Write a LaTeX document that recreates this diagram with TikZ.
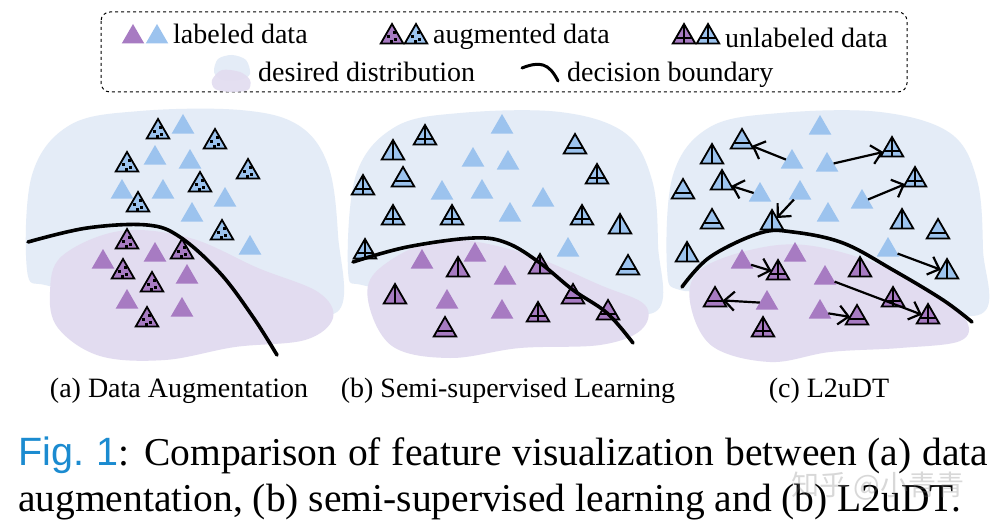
\documentclass[tikz,border=0pt]{standalone}
\usepackage{fontspec}
\setmainfont{Liberation Serif}
\newfontfamily\capsans{Liberation Sans}
\newfontfamily\cjk{Noto Sans CJK SC}
\usetikzlibrary{shapes.geometric,arrows.meta,calc}
\definecolor{tblue}{HTML}{9CC3EE}
\definecolor{tpurp}{HTML}{A77BC2}
\definecolor{bgblue}{HTML}{E4ECF7}
\definecolor{bgpurp}{HTML}{E2DCF0}
\definecolor{figblue}{HTML}{1B8BD0}
\tikzset{
  tri/.style={regular polygon, regular polygon sides=3, minimum size=26pt, inner sep=0pt, outer sep=0pt},
  lb/.style={tri, fill=tblue},
  lp/.style={tri, fill=tpurp},
  edged/.style={draw=black, line width=1.8pt},
  markV/.style={path picture={
     \draw[black, line width=1.6pt] (path picture bounding box.north) -- (path picture bounding box.south);}},
  markH/.style={path picture={
     \draw[black, line width=1.6pt] ($(path picture bounding box.south west)!0.28!(path picture bounding box.north west)$) -- ($(path picture bounding box.south east)!0.28!(path picture bounding box.north east)$);}},
  markX/.style={path picture={
     \draw[black, line width=1.6pt] (path picture bounding box.north) -- (path picture bounding box.south);
     \draw[black, line width=1.6pt] ($(path picture bounding box.south west)!0.28!(path picture bounding box.north west)$) -- ($(path picture bounding box.south east)!0.28!(path picture bounding box.north east)$);}},
  markD/.style={path picture={
     \fill[black] (path picture bounding box.center) ++(0.5pt,0pt) rectangle ++(3pt,3pt);
     \fill[black] (path picture bounding box.center) ++(-5pt,-4pt) rectangle ++(3pt,3pt);
     \fill[black] (path picture bounding box.center) ++(1.5pt,-7pt) rectangle ++(3pt,3pt);
     \fill[black] (path picture bounding box.center) ++(-2.5pt,-9.5pt) rectangle ++(3pt,3pt);}},
  ubV/.style={tri, fill=tblue, edged, markV},
  ubH/.style={tri, fill=tblue, edged, markH},
  ubX/.style={tri, fill=tblue, edged, markX},
  upV/.style={tri, fill=tpurp, edged, markV},
  upH/.style={tri, fill=tpurp, edged, markH},
  upX/.style={tri, fill=tpurp, edged, markX},
  ab/.style={tri, fill=tblue, edged, markD},
  ap/.style={tri, fill=tpurp, edged, markD},
  bound/.style={line width=3.6pt, line cap=round},
  arr/.style={line width=2.2pt, -{Straight Barb[length=10pt,width=19pt,line width=2.2pt]}},
  legtxt/.style={anchor=base west, inner sep=0pt, font=\fontsize{28}{30}\selectfont},
  subcap/.style={anchor=base, inner sep=0pt, font=\fontsize{28}{30}\selectfont},
}
\begin{document}
\begin{tikzpicture}[x=1pt,y=-1pt]
\useasboundingbox (0,0) rectangle (992,524);
\fill[white] (0,0) rectangle (992,524);

% ---------- legend ----------
\draw[dashed, line width=1pt, rounded corners=9pt] (101,12) rectangle (907,92);
\node[lp] (Lp1) at (133,37) {};
\node[lb] (Lb1) at (157,37) {};
\node[legtxt] (Lt1) at (173,44) {labeled data};
\node[ap] (Lp2) at (392,37) {};
\node[ab] (Lb2) at (416,37) {};
\node[legtxt] (Lt2) at (433,44) {augmented data};
\node[upX] (Lp3) at (684,37) {};
\node[ubX] (Lb3) at (708,37) {};
\node[legtxt] (Lt3) at (725,48) {unlabeled data};
\fill[bgblue] plot[smooth cycle] coordinates {(214,72) (218,59) (232,55) (246,60) (250,74) (240,80) (222,80)};
\fill[bgpurp, opacity=0.9] plot[smooth cycle] coordinates {(212,80) (222,70) (240,72) (250,80) (248,90) (230,92) (215,89)};
\node[legtxt] (Lt4) at (258,82) {desired distribution};
\draw[line width=3pt, line cap=round] (522,68) .. controls (540,61) and (549,63) .. (558,81);
\node[legtxt] (Lt5) at (567,82) {decision boundary};

% ---------- panel (a) ----------
\fill[bgblue] plot[smooth cycle, tension=0.6] coordinates {(27,270) (32,175) (70,125) (140,111) (240,110) (298,125) (328,165) (338,235) (337,312) (250,300) (100,290) (45,285)};
\fill[bgpurp] plot[smooth cycle, tension=0.6] coordinates {(50,292) (62,256) (120,231) (190,238) (258,268) (318,292) (333,318) (305,340) (235,347) (165,360) (100,356) (58,328)};
\foreach \p [count=\i] in {(183,127),(155,158),(190,162),(122,192),(163,192),(225,200),(192,215),(250,248)}
  \node[lb] (alb\i) at \p {};
\foreach \p [count=\i] in {(103,262),(155,255),(187,277),(127,302),(182,310)}
  \node[lp] (alp\i) at \p {};
\foreach \p [count=\i] in {(158,132),(215,142),(127,165),(248,172),(200,185),(138,205),(222,233)}
  \node[ab] (aab\i) at \p {};
\foreach \p [count=\i] in {(127,242),(182,252),(123,272),(152,285),(147,320)}
  \node[ap] (aap\i) at \p {};
\draw[bound] plot[smooth, tension=0.6] coordinates {(28,242) (87,228) (147,225) (180,237) (220,273) (253,317) (277,355)};

% ---------- panel (b) ----------
\fill[bgblue] plot[smooth cycle, tension=0.6] coordinates {(348,270) (356,175) (395,127) (460,113) (560,112) (625,133) (652,180) (658,245) (655,312) (560,300) (420,290) (362,285)};
\fill[bgpurp] plot[smooth cycle, tension=0.6] coordinates {(368,300) (380,268) (440,240) (520,252) (600,285) (645,305) (641,330) (600,345) (520,348) (450,358) (392,346)};
\foreach \p [count=\i] in {(502,127),(473,160),(508,163),(442,193),(482,192),(543,200),(510,215),(568,250)}
  \node[lb] (blb\i) at \p {};
\foreach \p [count=\i] in {(422,262),(475,255),(505,278),(447,302),(502,312)}
  \node[lp] (blp\i) at \p {};
\node[ubX] (bub1) at (425,138) {};
\node[ubV] (bub2) at (393,153) {};
\node[ubH] (bub3) at (575,147) {};
\node[ubH] (bub4) at (403,180) {};
\node[ubX] (bub5) at (363,188) {};
\node[ubX] (bub6) at (597,177) {};
\node[ubX] (bub7) at (393,218) {};
\node[ubX] (bub8) at (452,218) {};
\node[ubX] (bub9) at (582,218) {};
\node[ubV] (bub10) at (620,227) {};
\node[ubX] (bub11) at (365,252) {};
\node[ubH] (bub12) at (628,268) {};
\node[upV] (bup1) at (458,270) {};
\node[upV] (bup2) at (540,267) {};
\node[upV] (bup3) at (395,297) {};
\node[upH] (bup4) at (573,297) {};
\node[upX] (bup5) at (538,315) {};
\node[upH] (bup6) at (608,313) {};
\node[upH] (bup7) at (445,330) {};
\draw[bound] plot[smooth, tension=0.6] coordinates {(353,262) (407,247) (473,238) (507,243) (540,263) (573,290) (607,313) (633,343)};

% ---------- panel (c) ----------
\fill[bgblue] plot[smooth cycle, tension=0.6] coordinates {(667,268) (673,175) (710,127) (780,113) (880,112) (950,133) (977,180) (983,250) (981,314) (880,300) (740,290) (680,290)};
\fill[bgpurp] plot[smooth cycle, tension=0.6] coordinates {(690,302) (700,270) (750,250) (805,245) (872,262) (932,292) (966,320) (960,341) (900,348) (830,352) (770,362) (712,346)};
\foreach \p [count=\i] in {(820,128),(792,162),(827,165),(760,195),(800,193),(862,202),(828,215),(888,250)}
  \node[lb] (clb\i) at \p {};
\foreach \p [count=\i] in {(742,262),(795,255),(825,278),(767,303),(820,312)}
  \node[lp] (clp\i) at \p {};
\node[ubH] (cub1) at (742,142) {};
\node[ubV] (cub2) at (712,157) {};
\node[ubX] (cub3) at (892,150) {};
\node[ubV] (cub4) at (722,183) {};
\node[ubH] (cub5) at (683,192) {};
\node[ubX] (cub6) at (915,180) {};
\node[ubH] (cub7) at (712,222) {};
\node[ubV] (cub8) at (772,223) {};
\node[ubV] (cub9) at (902,222) {};
\node[ubH] (cub10) at (938,232) {};
\node[ubV] (cub11) at (687,255) {};
\node[ubV] (cub12) at (947,272) {};
\node[upX] (cup1) at (778,273) {};
\node[upV] (cup2) at (860,270) {};
\node[upH] (cup3) at (715,300) {};
\node[upX] (cup4) at (893,300) {};
\node[upH] (cup5) at (857,318) {};
\node[upX] (cup6) at (928,317) {};
\node[upX] (cup7) at (763,330) {};
\draw[arr] (clb2) -- (cub1);
\draw[arr] (clb3) -- (cub3);
\draw[arr] (clb4) -- (cub4);
\draw[arr] (clb5) -- (cub8);
\draw[arr] (clb6) -- (cub6);
\draw[arr] (clb8) -- (cub12);
\draw[arr] (clp1) -- (cup1);
\draw[arr] (clp4) -- (cup3);
\draw[arr] (clp3) -- (cup6);
\draw[arr] (clp5) -- (cup5);
\draw[bound] plot[smooth, tension=0.6] coordinates {(682,287) (710,257) (760,233) (793,232) (843,243) (893,270) (943,300) (972,322)};

% ---------- captions ----------
\node[subcap] (sa) at (179,397) {(a) Data Augmentation};
\node[subcap] (sb) at (508,397) {(b) Semi-supervised Learning};
\node[subcap] (sc) at (829,397) {(c) L2uDT};
\node[anchor=base west, inner sep=0pt] (cap1) at (18,465) {\fontsize{39.5}{42}\selectfont\hbox to 970pt{{\capsans\color{figblue}Fig.~1}: Comparison of feature visualization between (a) data}};
\node[anchor=base west, inner sep=0pt] (cap2) at (18,511) {\fontsize{39.5}{42}\selectfont augmentation, (b) semi-supervised learning and (b) L2uDT.};
\node[text=gray, opacity=0.3, inner sep=0pt] (wm) at (878,486) {\cjk\fontsize{28}{30}\selectfont 知乎 @小青青};
\end{tikzpicture}
\end{document}
